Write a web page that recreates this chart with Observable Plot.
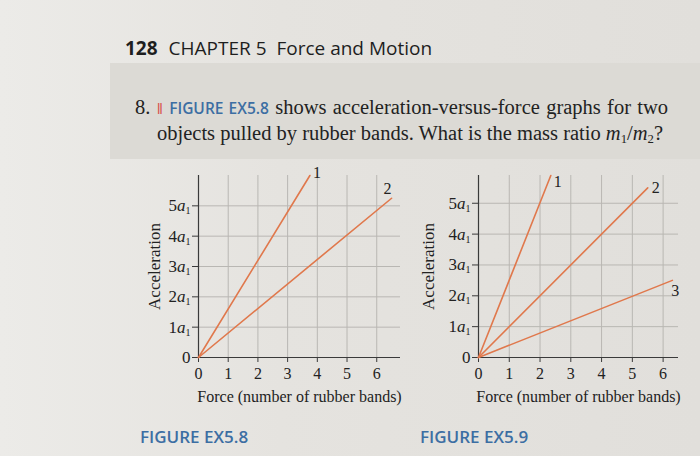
<!DOCTYPE html>
<html>
<head>
<meta charset="utf-8">
<script src="https://cdn.jsdelivr.net/npm/d3@7"></script>
<script src="https://cdn.jsdelivr.net/npm/@observablehq/plot@0.6"></script>
<style>
  html, body { margin: 0; padding: 0; }
  body {
    width: 700px; height: 456px; position: relative; overflow: hidden;
    background: linear-gradient(90deg, #ecebe8 0%, #e5e3df 40%, #e1dfdb 100%);
    font-family: "Liberation Serif", serif; color: #222;
  }
  .box { position: absolute; left: 110px; top: 63px; width: 590px; height: 96px; background: #dcdad5; }
  .hdr { position: absolute; left: 125px; top: 35px; font-family: "Open Sans", sans-serif; font-size: 19px; color: #1e1e1e; white-space: nowrap; }
  .hdr b { font-weight: 700; margin-right: 11px; }
  .p1 { position: absolute; left: 135px; top: 96px; width: 533px; font-size: 20.5px; text-align: justify; text-align-last: justify; white-space: nowrap; }
  .p2 { position: absolute; left: 157px; top: 122px; font-size: 20.5px; white-space: nowrap; }
  .fig { color: #3c6ea3; font-family: "Open Sans", sans-serif; font-weight: 600; font-size: 15.5px; }
  .bar { color: #d9534f; font-family: "Open Sans", sans-serif; font-size: 15px; }
  .cap { position: absolute; top: 425px; color: #3c6ea3; font-family: "Open Sans", sans-serif; font-weight: 600; font-size: 17px; }
  .chart { position: absolute; top: 160px; }
  sub { font-size: 0.62em; vertical-align: -0.25em; line-height: 0; }
</style>
</head>
<body>
<div class="box"></div>
<div class="hdr"><b>128</b>CHAPTER 5&nbsp; Force and Motion</div>
<div class="p1">8. <span class="bar">‖</span> <span class="fig">FIGURE EX5.8</span> shows acceleration-versus-force graphs for two</div>
<div class="p2">objects pulled by rubber bands. What is the mass ratio <i>m</i><sub>1</sub>/<i>m</i><sub>2</sub>?</div>
<div id="c1" class="chart" style="left:130px"></div>
<div id="c2" class="chart" style="left:410px"></div>
<div class="cap" style="left:140px">FIGURE EX5.8</div>
<div class="cap" style="left:420px">FIGURE EX5.9</div>
<script>
// Shared tick values
const forceTicks = [0, 1, 2, 3, 4, 5, 6];
const accelTicks = [0, 1, 2, 3, 4, 5];
const xLabel = "Force (number of rubber bands)";
const yLabel = "Acceleration";

// FIGURE EX5.8: two objects (line ends, from origin)
const ex8Objects = ["1", "2"];
const ex8EndForce = [3.75, 6.5];
const ex8EndAccel = [6.0, 5.25];

// FIGURE EX5.9: three objects
const ex9Objects = ["1", "2", "3"];
const ex9EndForce = [2.35, 5.5, 6.3];
const ex9EndAccel = [5.9, 5.5, 2.5];

const lineColor = "#e0784c";
const gridColor = "#b9b7b3";
const axisColor = "#3a3a3a";

function makeChart(objects, endF, endA, xMax, yMax, width, marginRight, yLabelOffset, labelOffsets) {
  const rows = [];
  const ends = [];
  objects.forEach((o, i) => {
    rows.push({obj: o, F: 0, a: 0});
    rows.push({obj: o, F: endF[i], a: endA[i]});
    ends.push({obj: o, F: endF[i], a: endA[i], dx: labelOffsets[i][0], dy: labelOffsets[i][1]});
  });
  const svg = Plot.plot({
    width, height: 250,
    marginLeft: 68, marginRight, marginTop: 15, marginBottom: 53,
    style: {fontFamily: "Liberation Serif, serif", fontSize: "16px", background: "transparent", color: "#222", overflow: "visible"},
    x: {domain: [0, xMax]},
    y: {domain: [0, yMax]},
    marks: [
      Plot.gridX(forceTicks.slice(1), {stroke: gridColor, strokeOpacity: 1, strokeWidth: 1}),
      Plot.gridY(accelTicks.slice(1), {stroke: gridColor, strokeOpacity: 1, strokeWidth: 1}),
      Plot.axisX({ticks: forceTicks, tickSize: 5, tickPadding: 5, stroke: axisColor, tickFormat: d => String(d), label: xLabel, labelAnchor: "center", labelArrow: "none", labelOffset: 44}),
      Plot.axisY({ticks: accelTicks, tickSize: 6, tickPadding: 2, stroke: axisColor, tickFormat: d => d === 0 ? "0" : d + "a1", label: yLabel, labelAnchor: "center", labelArrow: "none", labelOffset: yLabelOffset, fontSize: 17}),
      Plot.ruleX([0], {stroke: axisColor, strokeWidth: 1.2}),
      Plot.ruleY([0], {stroke: axisColor, strokeWidth: 1.2}),
      Plot.line(rows, {x: "F", y: "a", z: "obj", stroke: lineColor, strokeWidth: 1.6}),
      ...ends.map(e => Plot.text([e], {x: "F", y: "a", text: "obj", dx: e.dx, dy: e.dy, fontSize: 16, fill: "#222"}))
    ]
  });
  // Typeset tick labels like "5a₁": italic a with subscript 1
  d3.select(svg).selectAll('[aria-label="y-axis tick label"] text').each(function() {
    const t = d3.select(this).text();
    if (t.endsWith("a1")) {
      const n = t.slice(0, -2);
      const el = d3.select(this).text(n);
      el.append("tspan").attr("font-style", "italic").text("a");
      el.append("tspan").attr("font-size", "10px").attr("dy", "0.3em").text("1");
    }
  });
  return svg;
}

document.getElementById("c1").append(
  makeChart(ex8Objects, ex8EndForce, ex8EndAccel, 6.8, 6.0, 280, 10, 51, [[7, -3], [-4, -9]])
);
document.getElementById("c2").append(
  makeChart(ex9Objects, ex9EndForce, ex9EndAccel, 6.5, 5.9, 290, 22, 57, [[7, 6], [8, 0], [3, 10]])
);
</script>
</body>
</html>
